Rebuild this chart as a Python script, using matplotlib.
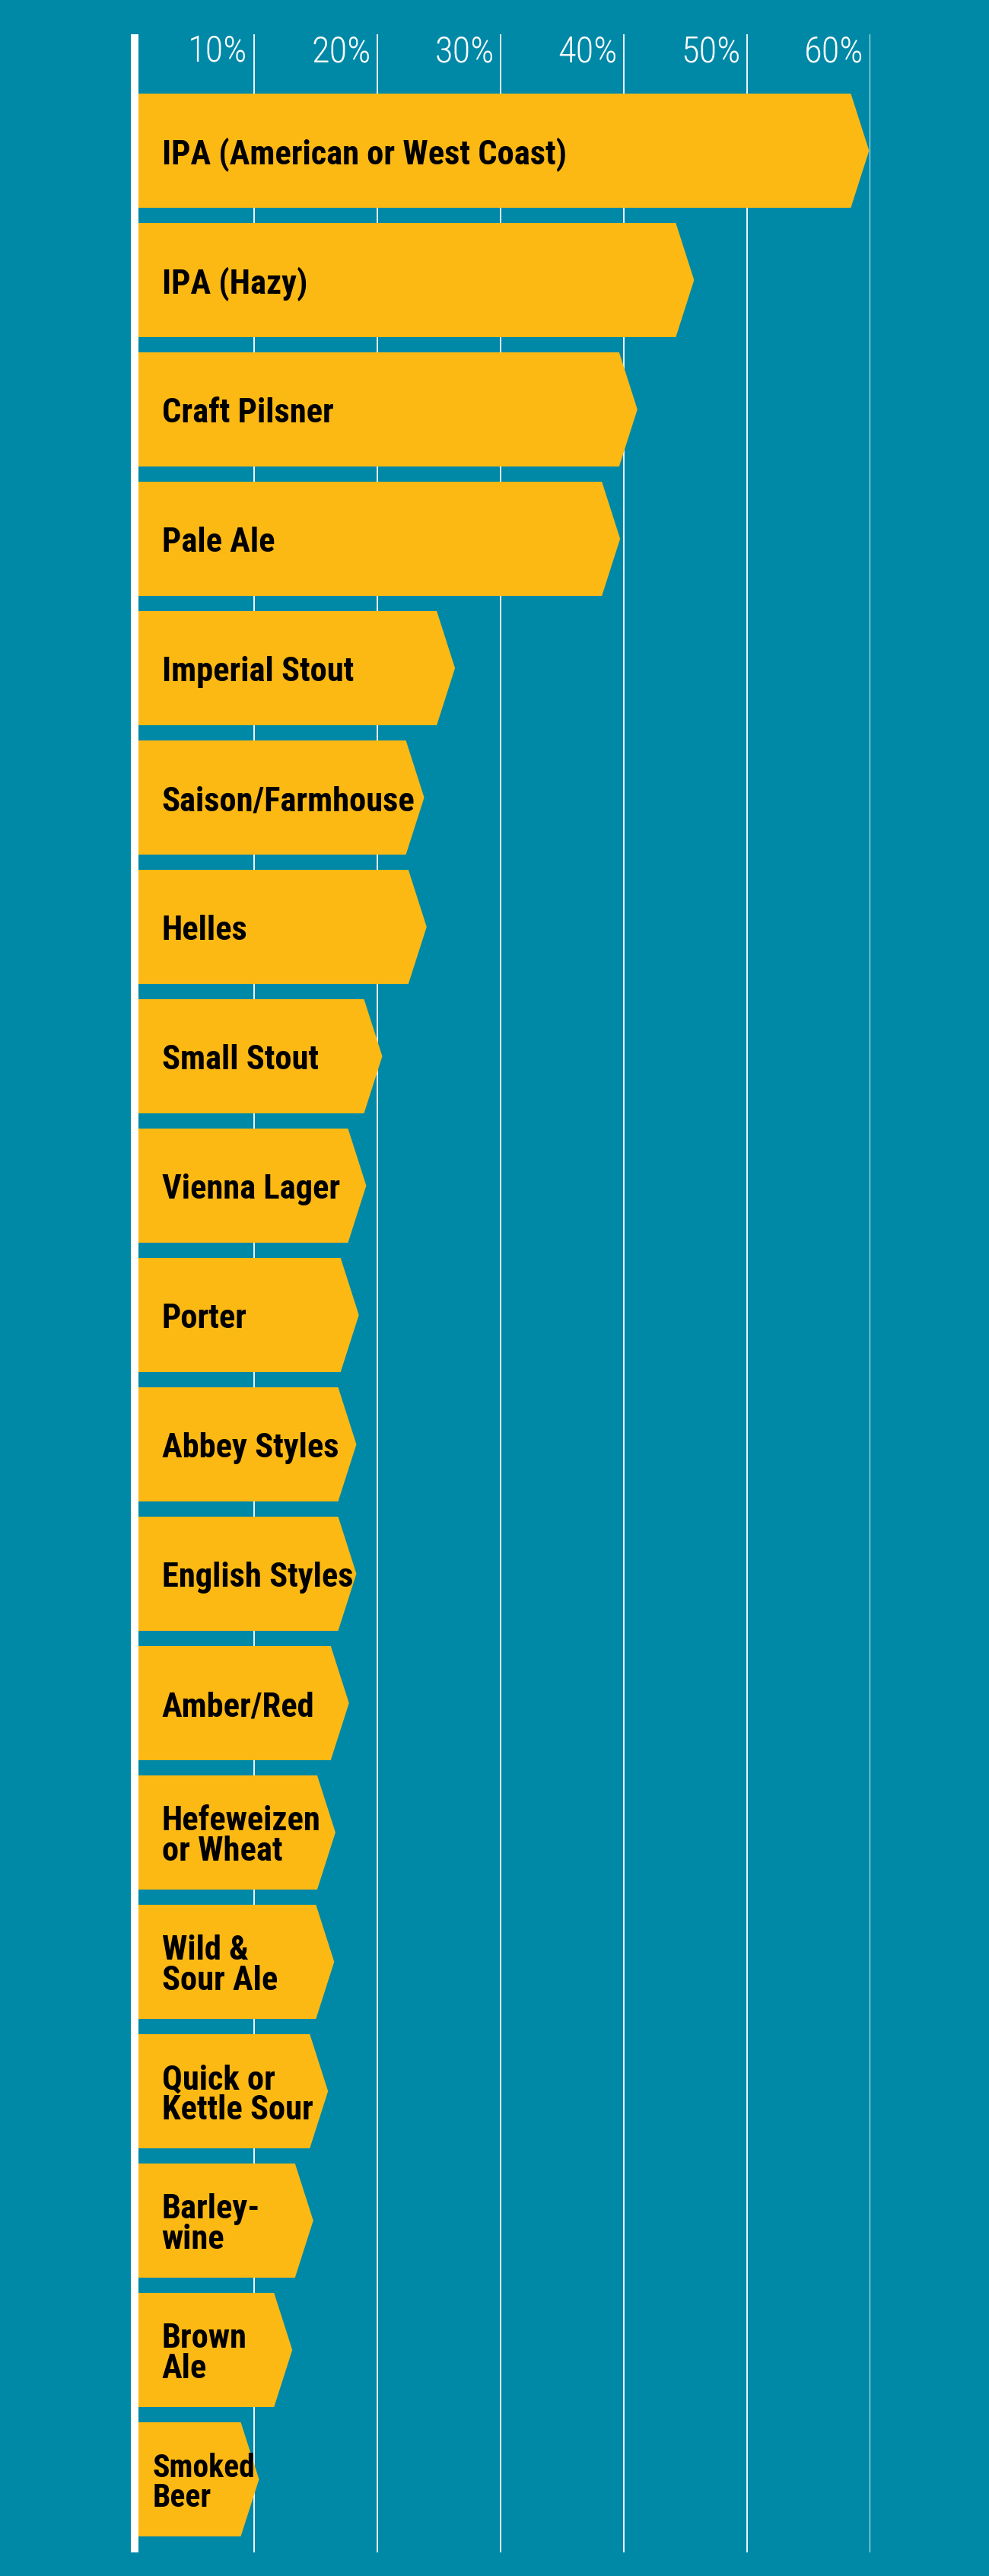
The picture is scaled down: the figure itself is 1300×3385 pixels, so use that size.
import matplotlib
matplotlib.use("Agg")
import matplotlib.pyplot as plt

# ------------------------------------------------------------
# DATA
# ------------------------------------------------------------
styles = [
    "IPA (American or West Coast)", "IPA (Hazy)", "Craft Pilsner", "Pale Ale",
    "Imperial Stout", "Saison/Farmhouse", "Helles", "Small Stout",
    "Vienna Lager", "Porter", "Abbey Styles", "English Styles", "Amber/Red",
    "Hefeweizen\nor Wheat", "Wild &\nSour Ale", "Quick or\nKettle Sour",
    "Barley-\nwine", "Brown\nAle", "Smoked\nBeer",
]
shares = [59.9, 45.7, 41.1, 39.7, 26.3, 23.8, 24.0, 20.4, 19.1, 18.5,
          18.3, 18.3, 17.7, 16.6, 16.5, 16.0, 14.8, 13.1, 10.4]
ticks = [10, 20, 30, 40, 50, 60]
tick_labels = ["10%", "20%", "30%", "40%", "50%", "60%"]

BG = "#0088A7"
BAR = "#FDB913"

W, H = 1300, 3385
fig = plt.figure(figsize=(W / 100, H / 100), dpi=100, facecolor=BG)
ax = fig.add_axes([172 / W, 31 / H, (1144 - 172) / W, 3309 / H])
ax.set_facecolor(BG)
ax.set_xlim(0, 60)
n = len(styles)
ax.set_ylim(n - 1 + 0.565, -0.9)
ax.axis("off")

label_font = ["Roboto Condensed", "Roboto", "DejaVu Sans"]

# gridlines behind bars
for t in ticks:
    ax.axvline(t, color="white", lw=1.3, zorder=1)

# arrow-shaped bars
h = 150 / 170
tip = 1.48
for i, (name, v) in enumerate(zip(styles, shares)):
    xs = [0, v - tip, v, v - tip, 0]
    ys = [i - h / 2, i - h / 2, i, i + h / 2, i + h / 2]
    ax.fill(xs, ys, color=BAR, lw=0, zorder=2, clip_on=False)
    # the last, shortest bar gets a tighter label
    small = i == n - 1
    ax.text(1.75 if small else 2.5, i + 0.03, name, ha="left", va="center",
            fontsize=30 if small else 32, fontweight="bold",
            family=label_font, color="black", linespacing=0.92, zorder=4)

# thick white baseline
ax.axvline(0, color="white", lw=14.4, zorder=3, solid_capstyle="butt")

# tick labels at the top
for t, lab in zip(ticks, tick_labels):
    ax.annotate(lab, xy=(t, 1), xycoords=("data", "axes fraction"),
                xytext=(-6, 0), textcoords="offset points",
                ha="right", va="top", fontsize=35, color="white",
                fontweight="light", family=label_font)

fig.savefig("out.png", dpi=100, facecolor=BG)
